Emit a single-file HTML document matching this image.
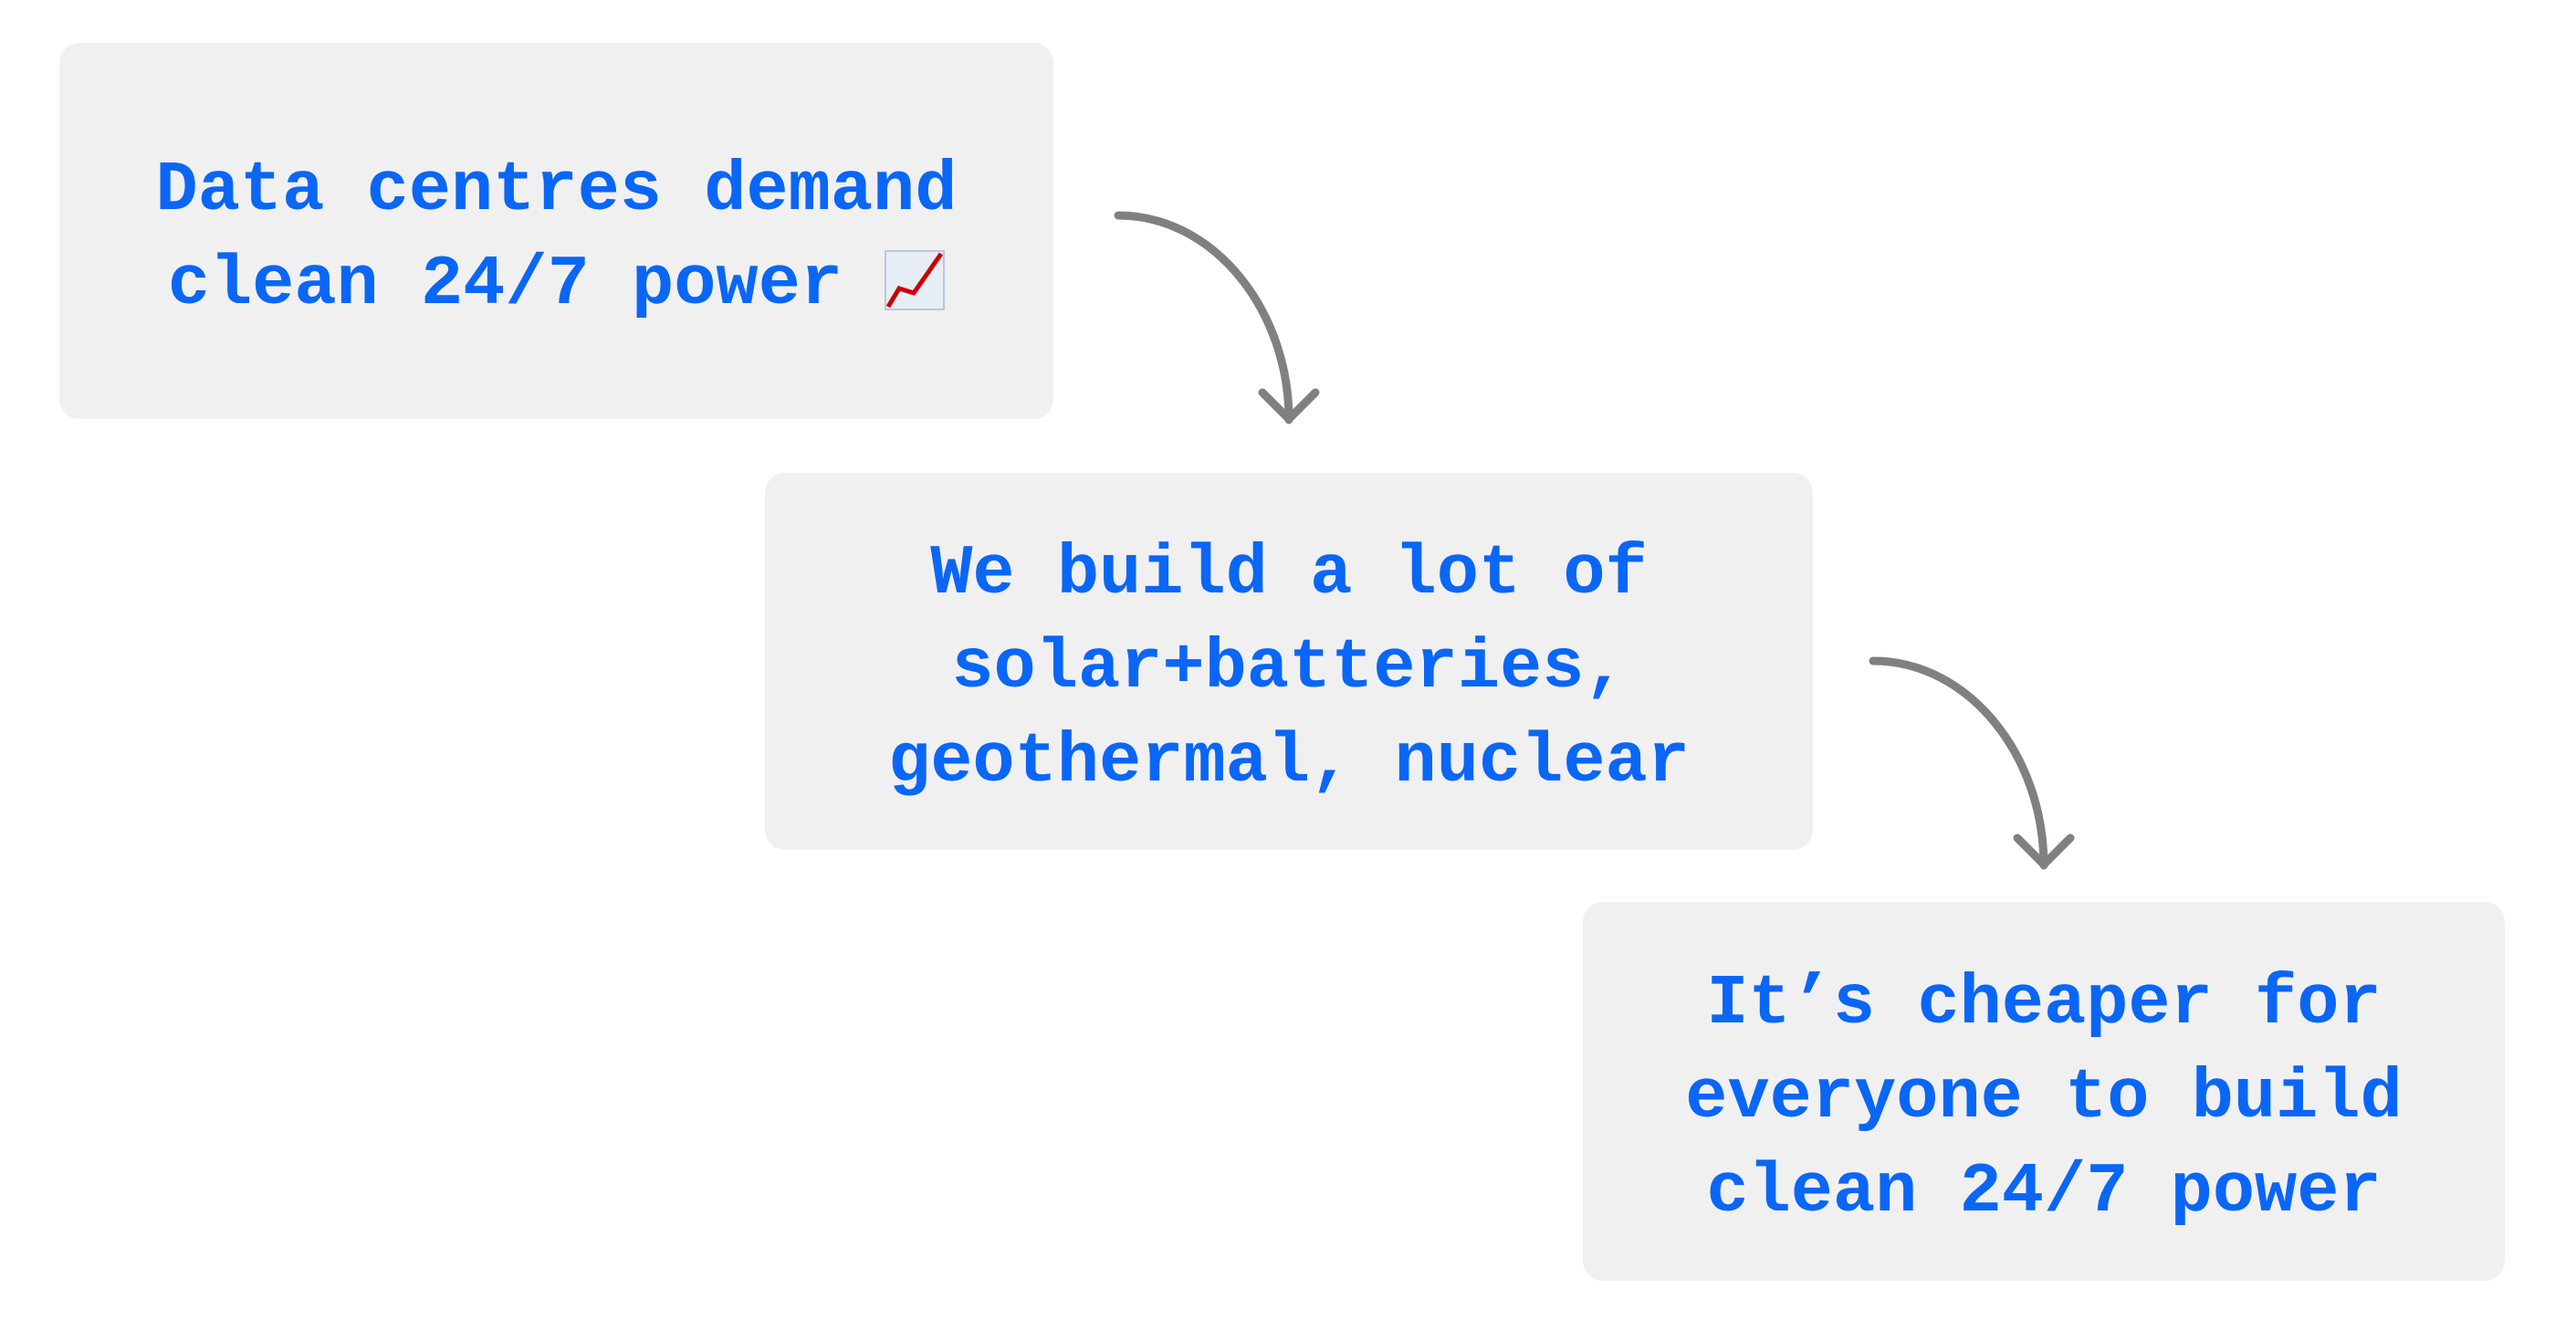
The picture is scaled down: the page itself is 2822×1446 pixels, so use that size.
<!DOCTYPE html>
<html><head><meta charset="utf-8"><style>
html,body{margin:0;padding:0;background:#fff;width:2822px;height:1446px;overflow:hidden;position:relative}
.b{position:absolute;background:#f0f0f0;border-radius:22px;display:flex;align-items:center;justify-content:center;text-align:center;
font-family:"Liberation Mono",monospace;font-weight:bold;font-size:77px;line-height:103px;color:#0a66f5}
.b div{white-space:pre;margin-top:16px}
svg.c{position:absolute;left:0;top:0}
</style></head><body>
<div class="b" style="left:65px;top:47px;width:1089px;height:412px"><div>Data centres demand
clean 24/7 power <svg style="display:inline-block;vertical-align:-8px" width="66" height="66" viewBox="0 0 66 66"><rect x="1" y="1" width="64" height="64" fill="#e6edf5" stroke="#b8c8dc" stroke-width="2"/><path d="M4 62 L16 42 L32 47 L62 4" fill="none" stroke="#c00" stroke-width="5"/></svg></div></div>
<div class="b" style="left:838px;top:518px;width:1148px;height:413px"><div>We build a lot of
solar+batteries,
geothermal, nuclear</div></div>
<div class="b" style="left:1734px;top:988px;width:1010px;height:415px"><div>It’s cheaper for
everyone to build
clean 24/7 power</div></div>
<svg class="c" width="2822" height="1446">
<g fill="none" stroke="#808080" stroke-width="9" stroke-linecap="round" stroke-linejoin="round">
<path d="M1225 236 C1330 236 1412 340 1412 460"/>
<path d="M1383 430 L1412 459 L1441 430"/>
<path d="M2052 724 C2157 724 2239 828 2239 948"/>
<path d="M2210 918 L2239 947 L2268 918"/>
</g></svg>
</body></html>
